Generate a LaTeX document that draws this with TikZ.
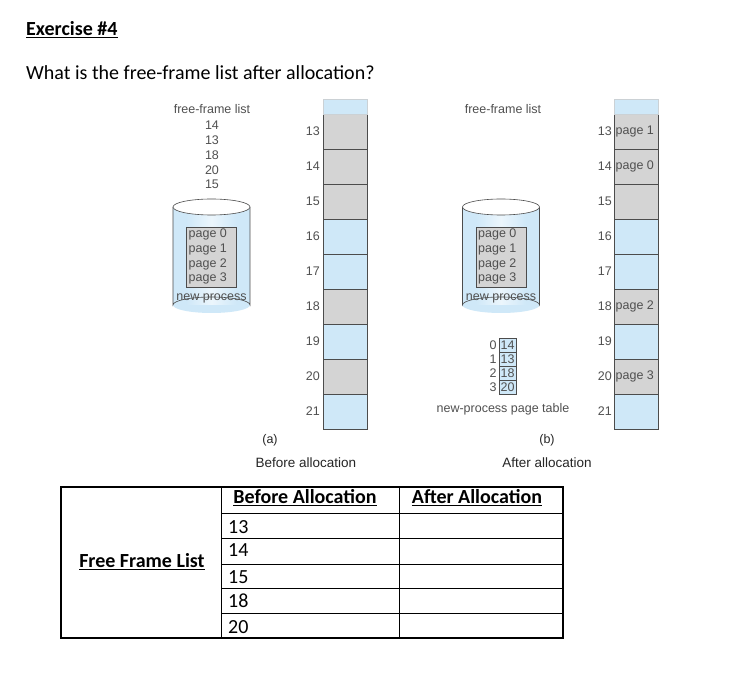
\documentclass[tikz,border=0pt]{standalone}
\usepackage{fontspec}
\setmainfont{Carlito}
\newfontfamily\dsf{Liberation Sans}
\definecolor{lb}{HTML}{CFE8F8}
\definecolor{gr}{HTML}{D4D4D4}
\definecolor{tg}{HTML}{505050}
\begin{document}
\begin{tikzpicture}[x=1pt,y=-1pt,
  dg/.style={font=\dsf\fontsize{12.5}{13}\selectfont,text=tg,inner sep=0pt},
  fr/.style={draw=black!70,line width=0.6pt},
  hd/.style={font=\fontsize{20}{21}\selectfont\bfseries,inner sep=0pt},
  tv/.style={font=\fontsize{20}{21}\selectfont,inner sep=0pt,anchor=west}]
\useasboundingbox[fill=white] (0,0) rectangle (748,676);
\node[hd,anchor=west] (ex) at (26,30) {\underline{Exercise \#4}};
\node[font=\fontsize{20}{21}\selectfont,inner sep=0pt,anchor=west] (q) at (26,73) {What is the free-frame list after allocation?};
% memory columns
\foreach \X/\N in {323/L,614/R}{
  \fill[lb] (\X,99) rectangle (\X+44,114);
  \draw[fr] (\X,114) -- (\X+44,114);
  \foreach \i/\c in {0/gr,1/gr,2/gr,3/lb,4/lb,5/gr,6/lb,7/gr,8/lb}{
    \filldraw[fr,fill=\c] (\X,114+35*\i) rectangle (\X+44,149+35*\i);
  }
  \draw[draw=lb!60!black!40] (\X,99) rectangle (\X+44,114);
}
\foreach \i [evaluate=\i as \n using int(13+\i)] in {0,...,8}{
  \node[dg,anchor=east] (l\i) at (320,131.5+35*\i) {\n};
  \node[dg,anchor=east] (r\i) at (612,131.5+35*\i) {\n};
}
\node[dg,anchor=west] (p1) at (615.5,131.5) {page 1};
\node[dg,anchor=west] (p0) at (615.5,166.5) {page 0};
\node[dg,anchor=west] (p2) at (615.5,306.5) {page 2};
\node[dg,anchor=west] (p3) at (615.5,376.5) {page 3};
% free frame lists
\node[dg] (ffl) at (212,109) {free-frame list};
\node[dg,align=center,font=\dsf\fontsize{12.5}{14.8}\selectfont] (ffn) at (212,155) {14\\13\\18\\20\\15};
\node[dg] (ffr) at (503,109) {free-frame list};
% cylinders
\foreach \C/\N in {211.5/a,501/b}{
  \fill[lb] (\C-38.5,207) rectangle (\C+38.5,305);
  \fill[lb] (\C,305) ellipse (38.5 and 8);
  \shade[left color=lb,right color=lb,middle color=lb!40] (\C-25,207) rectangle (\C+25,305);
  \draw[black!70,line width=0.6pt] (\C-38.5,207) -- (\C-38.5,305) arc[start angle=180,end angle=360,x radius=38.5,y radius=8] -- (\C+38.5,207);
  \filldraw[black!70,fill=white,line width=0.6pt] (\C,207) ellipse (38.5 and 8);
  \filldraw[black!70,fill=gr,line width=0.6pt] (\C-25,227) rectangle (\C+25,287);
  \node[dg,align=left,anchor=north west,font=\dsf\fontsize{12.5}{14.6}\selectfont] (pg\N) at (\C-23,229) {page 0\\page 1\\page 2\\page 3};
  \node[dg] (np\N) at (\C,298) {new process};
}
% page table
\foreach \i/\v in {0/14,1/13,2/18,3/20}{
  \filldraw[black!70,fill=lb,line width=0.5pt] (499,338+14*\i) rectangle (516,352+14*\i);
  \node[dg] (pt\i) at (507.5,345+14*\i) {\v};
  \node[dg] (pi\i) at (493,345+14*\i) {\i};
}
\node[dg] (ptl) at (503,409) {new-process page table};
\node[dg,text=black!85] (ca) at (270,440) {(a)};
\node[dg,text=black!85,font=\dsf\fontsize{13.5}{14}\selectfont] (cat) at (306,463) {Before allocation};
\node[dg,text=black!85] (cb) at (547,440) {(b)};
\node[dg,text=black!85,font=\dsf\fontsize{13.5}{14}\selectfont] (cbt) at (547,463) {After allocation};
% table
\draw[line width=1.2pt] (61,487) rectangle (563,638);
\draw[line width=0.8pt] (221,487) -- (221,638) (399,487) -- (399,638);
\foreach \y in {513,538,564,588,613}{\draw[line width=0.8pt] (221,\y) -- (563,\y);}
\node[hd] (h1) at (305,498) {\underline{Before Allocation}};
\node[hd] (h2) at (477,498) {\underline{After Allocation}};
\node[hd] (ffll) at (142,562) {\underline{Free Frame List}};
\node[tv] (v1) at (228,527) {13};
\node[tv] (v2) at (228,550) {14};
\node[tv] (v3) at (228,577) {15};
\node[tv] (v4) at (228,601) {18};
\node[tv] (v5) at (228,627) {20};
\end{tikzpicture}
\end{document}
